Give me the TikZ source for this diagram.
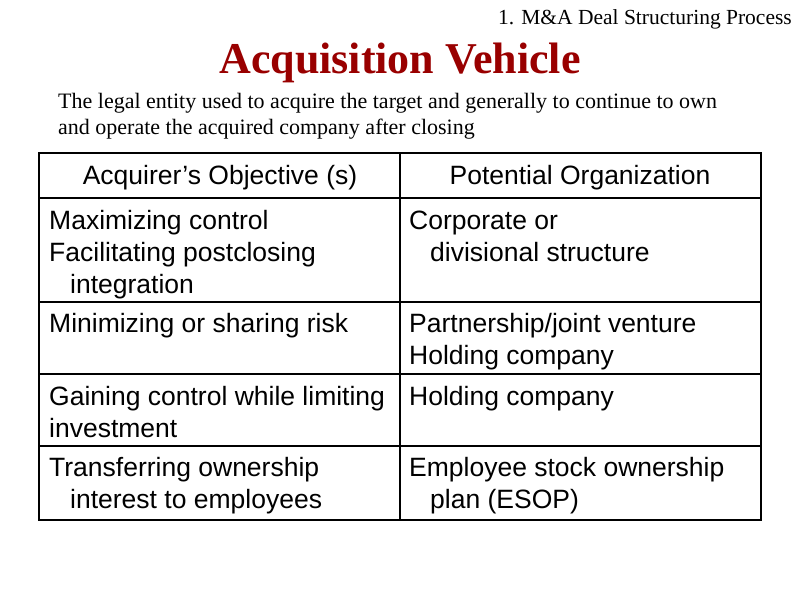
\documentclass[tikz,border=0pt]{standalone}
\usepackage{fontspec}
\setmainfont{Liberation Serif}
\newfontfamily\arialf{Liberation Sans}
\begin{document}
\begin{tikzpicture}[x=1pt,y=-1pt,
  cell/.style={anchor=base west,inner sep=0pt,font=\arialf\fontsize{26.5}{28}\selectfont},
  hdr/.style={anchor=base,inner sep=0pt,font=\arialf\fontsize{26.5}{28}\selectfont},
  sub/.style={anchor=base west,inner sep=0pt,font=\fontsize{22}{24}\selectfont}]
\useasboundingbox (0,0) rectangle (800,600);
\node[anchor=base east,inner sep=0pt,font=\fontsize{21.5}{23}\selectfont] (proc) at (792,24) {1. M\&A Deal Structuring Process};
\node[anchor=base,inner sep=0pt,font=\bfseries\fontsize{44}{48}\selectfont,text={rgb,255:red,153;green,0;blue,0}] (title) at (400,73) {Acquisition Vehicle};
\node[sub] (s1) at (58,108) {The legal entity used to acquire the target and generally to continue to own};
\node[sub] (s2) at (58,134) {and operate the acquired company after closing};
% table lines
\draw[line width=1.5pt] (39,198) -- (761,198);
\draw[line width=1.5pt] (39,302) -- (761,302);
\draw[line width=1.5pt] (39,374) -- (761,374);
\draw[line width=1.5pt] (39,446) -- (761,446);
\draw[line width=1.5pt] (400,153) -- (400,520);
\draw[line width=2.5pt] (39,153) rectangle (761,520);
\node[hdr] (h1) at (220,184) {Acquirer’s Objective (s)};
\node[hdr] (h2) at (580,184) {Potential Organization};
\node[cell] (a1) at (49,229) {Maximizing control};
\node[cell] (a2) at (49,261) {Facilitating postclosing};
\node[cell] (a3) at (70,293) {integration};
\node[cell] (b1) at (409,229) {Corporate or};
\node[cell] (b2) at (430,261) {divisional structure};
\node[cell] (a4) at (49,332) {Minimizing or sharing risk};
\node[cell] (b3) at (409,332) {Partnership/joint venture};
\node[cell] (b4) at (409,364) {Holding company};
\node[cell] (a5) at (49,405) {Gaining control while limiting};
\node[cell] (a6) at (49,437) {investment};
\node[cell] (b5) at (409,405) {Holding company};
\node[cell] (a7) at (49,476) {Transferring ownership};
\node[cell] (a8) at (70,508) {interest to employees};
\node[cell] (b6) at (409,476) {Employee stock ownership};
\node[cell] (b7) at (430,508) {plan (ESOP)};
\end{tikzpicture}
\end{document}
